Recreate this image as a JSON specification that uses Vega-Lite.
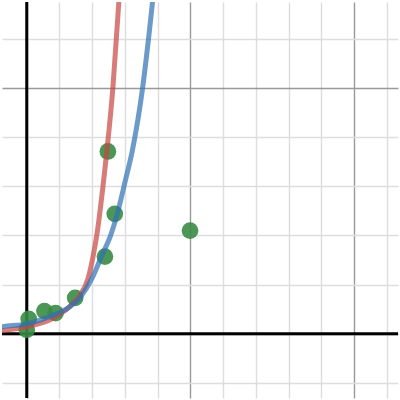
{
  "$schema": "https://vega.github.io/schema/vega-lite/v6.json",
  "width": 400,
  "height": 400,
  "autosize": {"type": "fit", "contains": "padding"},
  "padding": 0,
  "background": "white",
  "config": {
    "view": {"stroke": null},
    "axis": {"labels": false, "ticks": false, "domain": false, "grid": true, "gridWidth": 1.4, "gridColor": "#dddddd", "title": null}
  },
  "datasets": {
    "points": [
      {"x": 0.0, "y": 0.08},
      {"x": 0.06, "y": 0.3},
      {"x": 0.54, "y": 0.46},
      {"x": 0.88, "y": 0.42},
      {"x": 1.48, "y": 0.73},
      {"x": 2.39, "y": 1.57},
      {"x": 2.48, "y": 3.71},
      {"x": 2.69, "y": 2.44},
      {"x": 4.99, "y": 2.1}
    ],
    "red": [
      {"x": -0.8, "y": 0.055},
      {"x": -0.756, "y": 0.06},
      {"x": 0.0, "y": 0.14},
      {"x": 0.756, "y": 0.3},
      {"x": 1.301, "y": 0.544},
      {"x": 1.604, "y": 0.766},
      {"x": 1.867, "y": 1.109},
      {"x": 2.027, "y": 1.573},
      {"x": 2.148, "y": 2.036},
      {"x": 2.351, "y": 3.125},
      {"x": 2.451, "y": 3.73},
      {"x": 2.632, "y": 5.0},
      {"x": 2.814, "y": 6.754},
      {"x": 2.844, "y": 7.06}
    ],
    "blue": [
      {"x": -0.8, "y": 0.135},
      {"x": -0.756, "y": 0.14},
      {"x": 0.0, "y": 0.2},
      {"x": 0.756, "y": 0.363},
      {"x": 1.301, "y": 0.544},
      {"x": 1.664, "y": 0.766},
      {"x": 1.982, "y": 1.109},
      {"x": 2.284, "y": 1.573},
      {"x": 2.572, "y": 2.016},
      {"x": 2.775, "y": 2.46},
      {"x": 2.995, "y": 3.065},
      {"x": 3.228, "y": 3.73},
      {"x": 3.54, "y": 5.0},
      {"x": 3.722, "y": 6.008},
      {"x": 3.843, "y": 6.754},
      {"x": 3.873, "y": 6.96}
    ],
    "origin": [{"x": 0, "y": 0}]
  },
  "layer": [
    {
      "data": {"name": "origin"},
      "mark": {"type": "rule", "color": "black", "strokeWidth": 3},
      "encoding": {
        "x": {
          "field": "x", "type": "quantitative",
          "scale": {"domain": [-0.756, 11.346], "nice": false, "zero": false},
          "axis": {
            "values": [0, 1, 2, 3, 4, 5, 6, 7, 8, 9, 10, 11],
            "gridColor": {"condition": {"test": "datum.value % 5 === 0", "value": "#999999"}, "value": "#dddddd"}
          }
        }
      }
    },
    {
      "data": {"name": "origin"},
      "mark": {"type": "rule", "color": "black", "strokeWidth": 3},
      "encoding": {
        "y": {
          "field": "y", "type": "quantitative",
          "scale": {"domain": [-1.31, 6.754], "nice": false, "zero": false},
          "axis": {
            "values": [-1, 0, 1, 2, 3, 4, 5, 6],
            "gridColor": {"condition": {"test": "datum.value % 5 === 0", "value": "#999999"}, "value": "#dddddd"}
          }
        }
      }
    },
    {
      "data": {"name": "points"},
      "mark": {"type": "circle", "size": 280, "color": "#388c46", "opacity": 0.9},
      "encoding": {
        "x": {
          "field": "x", "type": "quantitative",
          "axis": {
            "values": [0, 1, 2, 3, 4, 5, 6, 7, 8, 9, 10, 11],
            "gridColor": {"condition": {"test": "datum.value % 5 === 0", "value": "#999999"}, "value": "#dddddd"}
          }
        },
        "y": {
          "field": "y", "type": "quantitative",
          "axis": {
            "values": [-1, 0, 1, 2, 3, 4, 5, 6],
            "gridColor": {"condition": {"test": "datum.value % 5 === 0", "value": "#999999"}, "value": "#dddddd"}
          }
        }
      }
    },
    {
      "data": {"name": "red"},
      "mark": {"type": "line", "color": "#c74440", "strokeWidth": 5, "opacity": 0.7, "interpolate": "monotone", "clip": true},
      "encoding": {
        "x": {
          "field": "x", "type": "quantitative",
          "axis": {
            "values": [0, 1, 2, 3, 4, 5, 6, 7, 8, 9, 10, 11],
            "gridColor": {"condition": {"test": "datum.value % 5 === 0", "value": "#999999"}, "value": "#dddddd"}
          }
        },
        "y": {
          "field": "y", "type": "quantitative",
          "axis": {
            "values": [-1, 0, 1, 2, 3, 4, 5, 6],
            "gridColor": {"condition": {"test": "datum.value % 5 === 0", "value": "#999999"}, "value": "#dddddd"}
          }
        }
      }
    },
    {
      "data": {"name": "blue"},
      "mark": {"type": "line", "color": "#2d70b3", "strokeWidth": 5, "opacity": 0.7, "interpolate": "monotone", "clip": true},
      "encoding": {
        "x": {
          "field": "x", "type": "quantitative",
          "axis": {
            "values": [0, 1, 2, 3, 4, 5, 6, 7, 8, 9, 10, 11],
            "gridColor": {"condition": {"test": "datum.value % 5 === 0", "value": "#999999"}, "value": "#dddddd"}
          }
        },
        "y": {
          "field": "y", "type": "quantitative",
          "axis": {
            "values": [-1, 0, 1, 2, 3, 4, 5, 6],
            "gridColor": {"condition": {"test": "datum.value % 5 === 0", "value": "#999999"}, "value": "#dddddd"}
          }
        }
      }
    }
  ]
}
